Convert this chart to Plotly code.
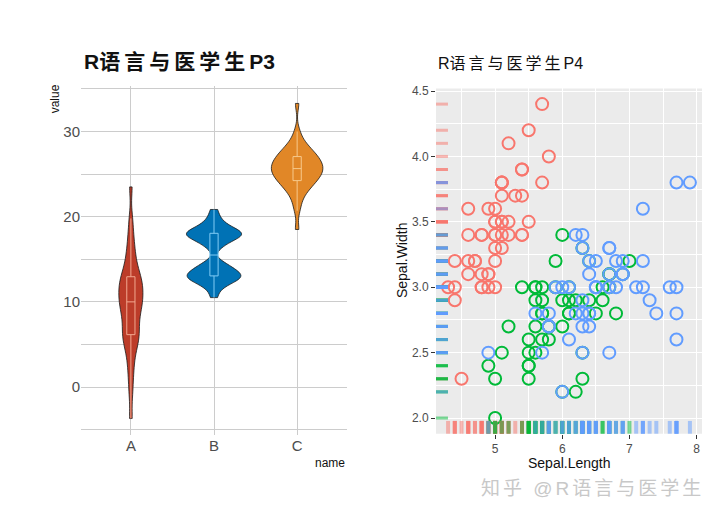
import plotly.graph_objects as go

# ---------------- Left panel data (violins) ----------------
groups = ["A", "B", "C"]
values_A = [-3.7, -0.9, 0.8, 2.1, 3.2, 4.1, 4.8, 5.3, 5.7, 6.0,
            6.3, 6.8, 7.3, 7.7, 8.2, 8.6, 9.0, 9.4, 9.7, 9.9,
            10.1, 10.4, 10.8, 11.1, 11.4, 11.7, 11.9, 12.2, 12.5, 12.8,
            13.1, 13.5, 14.0, 14.6, 15.3, 16.1, 17.0, 18.2, 19.8, 23.5]
values_B = [10.5, 11.4, 11.9, 12.2, 12.4, 12.5, 12.7, 12.8, 12.9, 13.0,
            13.1, 13.2, 13.3, 13.5, 13.6, 13.8, 14.0, 14.2, 14.4, 14.7,
            16.3, 16.7, 17.0, 17.3, 17.5, 17.6, 17.7, 17.8, 17.9, 18.0,
            18.1, 18.2, 18.3, 18.4, 18.6, 18.8, 19.1, 19.5, 20.0, 20.85]
values_C = [18.5, 20.7, 21.6, 22.3, 22.8, 23.1, 23.4, 23.6, 23.8, 24.0,
            24.2, 24.35, 24.5, 24.65, 24.8, 24.9, 25.0, 25.15, 25.3, 25.4,
            25.55, 25.65, 25.8, 25.9, 26.0, 26.1, 26.25, 26.4, 26.5, 26.65,
            26.8, 26.95, 27.1, 27.25, 27.4, 27.6, 27.8, 28.0, 28.3, 28.6,
            29.1, 30.0, 33.3]
group_values = [values_A, values_B, values_C]
fill_colors = ["#BC3C29", "#0072B5", "#E18727"]
box_line_colors = ["#F2A890", "#80CCF5", "#F7C98C"]
violin_widths = [0.29, 0.66, 0.62]
violin_bandwidths = [1.2, 0.6, 0.8]
box_fracs = [0.34, 0.15, 0.16]

# ---------------- Right panel data (iris) ----------------
species = ["setosa", "versicolor", "virginica"]
species_colors = ["#F8766D", "#00BA38", "#619CFF"]
setosa_len = [5.1, 4.9, 4.7, 4.6, 5.0, 5.4, 4.6, 5.0, 4.4, 4.9, 5.4, 4.8, 4.8, 4.3, 5.8, 5.7, 5.4, 5.1, 5.7, 5.1,
              5.4, 5.1, 4.6, 5.1, 4.8, 5.0, 5.0, 5.2, 5.2, 4.7, 4.8, 5.4, 5.2, 5.5, 4.9, 5.0, 5.5, 4.9, 4.4, 5.1,
              5.0, 4.5, 4.4, 5.0, 5.1, 4.8, 5.1, 4.6, 5.3, 5.0]
setosa_wid = [3.5, 3.0, 3.2, 3.1, 3.6, 3.9, 3.4, 3.4, 2.9, 3.1, 3.7, 3.4, 3.0, 3.0, 4.0, 4.4, 3.9, 3.5, 3.8, 3.8,
              3.4, 3.7, 3.6, 3.3, 3.4, 3.0, 3.4, 3.5, 3.4, 3.2, 3.1, 3.4, 4.1, 4.2, 3.1, 3.2, 3.5, 3.6, 3.0, 3.4,
              3.5, 2.3, 3.2, 3.5, 3.8, 3.0, 3.8, 3.2, 3.7, 3.3]
versicolor_len = [7.0, 6.4, 6.9, 5.5, 6.5, 5.7, 6.3, 4.9, 6.6, 5.2, 5.0, 5.9, 6.0, 6.1, 5.6, 6.7, 5.6, 5.8, 6.2, 5.6,
                  5.9, 6.1, 6.3, 6.1, 6.4, 6.6, 6.8, 6.7, 6.0, 5.7, 5.5, 5.5, 5.8, 6.0, 5.4, 6.0, 6.7, 6.3, 5.6, 5.5,
                  5.5, 6.1, 5.8, 5.0, 5.6, 5.7, 5.7, 6.2, 5.1, 5.7]
versicolor_wid = [3.2, 3.2, 3.1, 2.3, 2.8, 2.8, 3.3, 2.4, 2.9, 2.7, 2.0, 3.0, 2.2, 2.9, 2.9, 3.1, 3.0, 2.7, 2.2, 2.5,
                  3.2, 2.8, 2.5, 2.8, 2.9, 3.0, 2.8, 3.0, 2.9, 2.6, 2.4, 2.4, 2.7, 2.7, 3.0, 3.4, 3.1, 2.3, 3.0, 2.5,
                  2.6, 3.0, 2.6, 2.3, 2.7, 3.0, 2.9, 2.9, 2.5, 2.8]
virginica_len = [6.3, 5.8, 7.1, 6.3, 6.5, 7.6, 4.9, 7.3, 6.7, 7.2, 6.5, 6.4, 6.8, 5.7, 5.8, 6.4, 6.5, 7.7, 7.7, 6.0,
                 6.9, 5.6, 7.7, 6.3, 6.7, 7.2, 6.2, 6.1, 6.4, 7.2, 7.4, 7.9, 6.4, 6.3, 6.1, 7.7, 6.3, 6.4, 6.0, 6.9,
                 6.7, 6.9, 5.8, 6.8, 6.7, 6.7, 6.3, 6.5, 6.2, 5.9]
virginica_wid = [3.3, 2.7, 3.0, 2.9, 3.0, 3.0, 2.5, 2.9, 2.5, 3.6, 3.2, 2.7, 3.0, 2.5, 2.8, 3.2, 3.0, 3.8, 2.6, 2.2,
                 3.2, 2.8, 2.8, 2.7, 3.3, 3.2, 2.8, 3.0, 2.8, 3.0, 2.8, 3.8, 2.8, 2.8, 2.6, 3.0, 3.4, 3.1, 3.0, 3.1,
                 3.1, 3.1, 2.7, 3.2, 3.3, 3.0, 2.5, 3.0, 3.4, 3.0]
species_len = [setosa_len, versicolor_len, virginica_len]
species_wid = [setosa_wid, versicolor_wid, virginica_wid]

# ---------------- Text ----------------
title_left_pre, title_left_cjk, title_left_post = "R", "语言与医学生", "P3"
title_right_pre, title_right_cjk, title_right_post = "R", "语言与医学生", "P4"
watermark = "知乎 @R语言与医学生"

FONT = "Liberation Sans, Arial, Noto Sans CJK SC, sans-serif"
W, H = 716, 518
OX, OY = 8, 8  # page body offset


def px(x):
    return (x - OX) / W


def py(y):
    return 1 - (y - OY) / H


fig = go.Figure()

for g, vals, fc, bc, w, bw, bf in zip(groups, group_values, fill_colors, box_line_colors,
                                       violin_widths, violin_bandwidths, box_fracs):
    fig.add_trace(go.Violin(
        x=[g] * len(vals), y=vals, name=g,
        fillcolor=fc, line=dict(color="#1A1A1A", width=0.8), opacity=1,
        width=w, bandwidth=bw, spanmode="hard", scalemode="width",
        points=False,
        box=dict(visible=True, width=bf, fillcolor=fc, line=dict(color=bc, width=1)),
        meanline=dict(visible=False),
        xaxis="x", yaxis="y", showlegend=False, hoverinfo="skip"))

for sp, xs, ys, col in zip(species, species_len, species_wid, species_colors):
    fig.add_trace(go.Scatter(
        x=xs, y=ys, mode="markers", name=sp,
        marker=dict(symbol="circle-open", size=12, color=col, line=dict(width=2, color=col)),
        xaxis="x2", yaxis="y2", showlegend=False, hoverinfo="skip"))

shapes = [dict(type="rect", xref="x2 domain", yref="y2 domain", x0=0, x1=1, y0=0, y1=1,
               fillcolor="#EBEBEB", line=dict(width=0), layer="below")]
for xs, ys, col in zip(species_len, species_wid, species_colors):
    for v in ys:
        shapes.append(dict(type="line", xref="x2 domain", yref="y2", x0=0, x1=0.045, y0=v, y1=v,
                           line=dict(color=col, width=3), opacity=0.5))
    for v in xs:
        shapes.append(dict(type="line", xref="x2", yref="y2 domain", x0=v, x1=v, y0=0, y1=0.037,
                           line=dict(color=col, width=4), opacity=0.5))

grid_l = "#CCCCCC"
fig.update_layout(
    width=W, height=H, margin=dict(l=0, r=0, t=0, b=0),
    paper_bgcolor="white", plot_bgcolor="rgba(0,0,0,0)",
    font=dict(family=FONT, color="#4D4D4D"),
    showlegend=False, violinmode="overlay",
    shapes=shapes,
    xaxis=dict(domain=[px(81), px(347)], type="category", categoryorder="array", categoryarray=groups,
               range=[-0.6, 2.6], showgrid=True, gridcolor=grid_l, gridwidth=1,
               zeroline=False, showline=False, ticks="", tickfont=dict(size=15, color="#4D4D4D"),
               anchor="y", fixedrange=True),
    yaxis=dict(domain=[py(434), py(83)], range=[-5.6, 35.3], tick0=0, dtick=10,
               showgrid=True, gridcolor=grid_l, gridwidth=1, zeroline=False, showline=False, ticks="",
               tickfont=dict(size=15, color="#4D4D4D"),
               minor=dict(tick0=0, dtick=5, showgrid=True, gridcolor=grid_l, gridwidth=1),
               anchor="x"),
    xaxis2=dict(domain=[px(436), px(702)], range=[4.12, 8.08], tick0=5, dtick=1,
                showgrid=True, gridcolor="white", gridwidth=1.2, zeroline=False, showline=False,
                ticks="outside", ticklen=4, tickcolor="#333333", tickwidth=1,
                tickfont=dict(size=12, color="#4D4D4D"),
                minor=dict(tick0=5, dtick=0.5, showgrid=True, gridcolor="white", gridwidth=0.6),
                anchor="y2"),
    yaxis2=dict(domain=[py(433), py(85)], range=[1.88, 4.52], tick0=2, dtick=0.5, tickformat=".1f",
                showgrid=True, gridcolor="white", gridwidth=1.2, zeroline=False, showline=False,
                ticks="outside", ticklen=4, tickcolor="#333333", tickwidth=1,
                tickfont=dict(size=12, color="#4D4D4D"),
                minor=dict(tick0=2, dtick=0.25, showgrid=True, gridcolor="white", gridwidth=0.6),
                anchor="x2"),
)

annotations = [
    dict(text="<b>" + title_left_pre + "<span style='letter-spacing:4px'>" + title_left_cjk + "</span>"
              + title_left_post + "</b>",
         x=px(82), y=py(58), xref="paper", yref="paper", xanchor="left", yanchor="middle",
         showarrow=False, font=dict(size=21, color="#111111", family=FONT)),
    dict(text=title_right_pre + "<span style='letter-spacing:3px'>" + title_right_cjk + "</span>"
              + title_right_post,
         x=px(436), y=py(60), xref="paper", yref="paper", xanchor="left", yanchor="middle",
         showarrow=False, font=dict(size=16, color="#111111", family=FONT)),
    dict(text="value", x=px(55), y=py(96), xref="paper", yref="paper", xanchor="center",
         yanchor="middle", textangle=-90, showarrow=False, font=dict(size=12, color="#111111")),
    dict(text="name", x=px(347), y=py(463), xref="paper", yref="paper", xanchor="right",
         yanchor="middle", showarrow=False, font=dict(size=12, color="#111111")),
    dict(text="Sepal.Length", x=px(569), y=py(463), xref="paper", yref="paper", xanchor="center",
         yanchor="middle", showarrow=False, font=dict(size=14, color="#111111")),
    dict(text="Sepal.Width", x=px(402), y=py(259), xref="paper", yref="paper", xanchor="center",
         yanchor="middle", textangle=-90, showarrow=False, font=dict(size=14, color="#111111")),
    dict(text="<span style='letter-spacing:3px'>" + watermark + "</span>",
         x=px(592), y=py(488), xref="paper", yref="paper", xanchor="center", yanchor="middle",
         showarrow=False, font=dict(size=19, color="#C8C8C8", family=FONT)),
]
fig.update_layout(annotations=annotations)

fig.write_html("out.html")
